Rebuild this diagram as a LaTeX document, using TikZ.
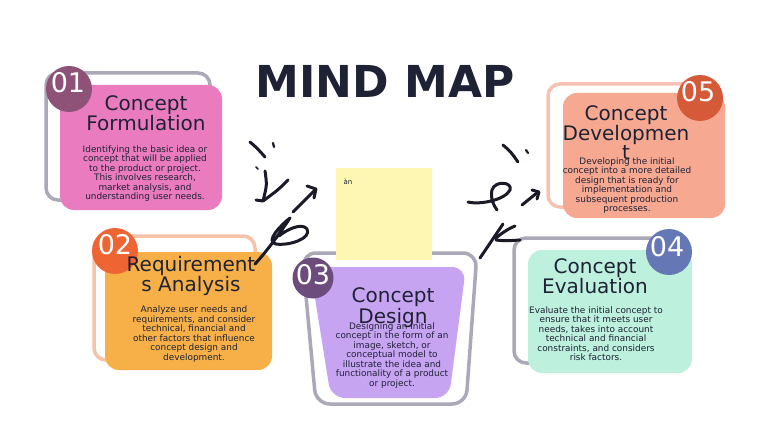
\documentclass[tikz,border=0pt]{standalone}
\usepackage{fontspec}
\setmainfont{DejaVu Sans}
\definecolor{ink}{HTML}{1F2235}
\definecolor{pen}{HTML}{1A1A28}
\definecolor{cpink}{HTML}{E97BBE}
\definecolor{bpink}{HTML}{8E5279}
\definecolor{corange}{HTML}{F7B048}
\definecolor{borange}{HTML}{EE6433}
\definecolor{cpurple}{HTML}{C7A4F2}
\definecolor{bpurple}{HTML}{6B4C7D}
\definecolor{cmint}{HTML}{BDF0DD}
\definecolor{bmint}{HTML}{6577B5}
\definecolor{csalmon}{HTML}{F6A891}
\definecolor{bsalmon}{HTML}{D55A38}
\definecolor{note}{HTML}{FDF7B3}
\definecolor{fgray}{HTML}{ABA8B8}
\definecolor{forange}{HTML}{F6C3A8}
\definecolor{fsalmon}{HTML}{F7C2B2}
\tikzset{
  frame/.style={draw=#1, line width=3.5pt, fill=white, rounded corners=12pt},
  card/.style={fill=#1, rounded corners=14pt},
  badge/.style={circle, fill=#1, minimum size=46pt, inner sep=0pt},
  num/.style={text=white, font=\fontsize{27}{27}\selectfont, inner sep=0pt},
  ttl/.style={text=ink, font=\fontsize{20}{19}\selectfont, align=center, inner sep=0pt},
  body/.style={text=ink, font=\fontsize{8.9}{9.5}\selectfont, align=center, inner sep=0pt},
  penline/.style={draw=pen, line width=3pt, line cap=round, line join=round},
}
\begin{document}
\begin{tikzpicture}[x=1pt,y=-1pt]
\useasboundingbox (0,0) rectangle (768,433);
\fill[white] (0,0) rectangle (768,433);

% title
\node[text=ink, font=\fontsize{44}{44}\selectfont\bfseries, inner sep=0pt] (title) at (385,81) {MIND MAP};

% ---------- card 1
\draw[frame=fgray] (46,73) rectangle (210,200);
\fill[card=cpink] (60,85) rectangle (222,210);
\node[badge=bpink] (b1) at (69,89) {};
\node[num] (n1) at (68,83) {01};
\node[ttl] (t1) at (146,113) {Concept\\Formulation};
\node[body] (d1) at (145,173.5) {Identifying the basic idea or\\concept that will be applied\\to the product or project.\\This involves research,\\market analysis, and\\understanding user needs.};

% ---------- card 2
\draw[frame=forange] (94,236) rectangle (255,360);
\fill[card=corange] (105,252) rectangle (272,370);
\node[badge=borange] (b2) at (115,251) {};
\node[num] (n2) at (115,245) {02};
\node[ttl] (t2) at (191,276) {Requirement\\s Analysis};
\node[body] (d2) at (194,334) {Analyze user needs and\\requirements, and consider\\technical, financial and\\other factors that influence\\concept design and\\development.};

% ---------- card 4
\draw[frame=fgray] (514,238) rectangle (680,363);
\fill[card=cmint] (528,250) rectangle (692,373);
\node[badge=bmint] (b4) at (669,252) {};
\node[num] (n4) at (667,247) {04};
\node[ttl] (t4) at (595,276) {Concept\\Evaluation};
\node[body] (d4) at (596,333.5) {Evaluate the initial concept to\\ensure that it meets user\\needs, takes into account\\technical and financial\\constraints, and considers\\risk factors.};

% ---------- card 5
\draw[frame=fsalmon] (548,84) rectangle (713,207);
\fill[card=csalmon] (563,93) rectangle (725,218);
\node[badge=bsalmon] (b5) at (700,98) {};
\node[num] (n5) at (698,92) {05};
\node[ttl] (t5) at (626,132.5) {Concept\\Developmen\\t};
\node[body] (d5) at (627,185.5) {Developing the initial\\concept into a more detailed\\design that is ready for\\implementation and\\subsequent production\\processes.};

% ---------- card 3
\draw[frame=fgray, rounded corners=14pt] (302,253) -- (477,253) -- (466,404) -- (316,404) -- cycle;
\fill[cpurple, rounded corners=14pt] (310,267) -- (466,267) -- (449,398) -- (331,398) -- cycle;
\node[fill=note, minimum width=96pt, minimum height=92pt, inner sep=0pt] (sticky) at (384,214) {};
\node[text=ink, font=\fontsize{7}{7}\selectfont, inner sep=0pt] (stxt) at (348,182) {àn};
\node[badge=bpurple, minimum size=41pt] (b3) at (313,278) {};
\node[num] (n3) at (313,275) {03};
\node[ttl] (t3) at (393,307.5) {Concept\\Design};
\node[body] (d3) at (392,355.5) {Designing an initial\\concept in the form of an\\image, sketch, or\\conceptual model to\\illustrate the idea and\\functionality of a product\\or project.};

% ---------- left squiggles
\coordinate (la1) at (250,142); \coordinate (la2) at (265,157);
\draw[penline] (la1) .. controls (257,148) .. (la2);
\draw[penline, line width=2.2pt] (273,143) -- (274,147);
\draw[penline, line width=1.5pt] (256,167) -- (258,169);
\draw[penline] (265,171) .. controls (267,185) .. (263,201) -- (256,200);
\draw[penline] (288,180) .. controls (278,190) .. (263,201);
\coordinate (lu1) at (293,212); \coordinate (lu2) at (315,190);
\draw[penline] (lu1) -- (lu2);
\draw[penline] (307,186) -- (316,189) -- (314,198);
\draw[penline] (255,264) .. controls (268,250) and (282,230) .. (290,218)
  .. controls (282,224) and (264,242) .. (276,244)
  .. controls (290,246) and (312,238) .. (307,229)
  .. controls (302,222) and (286,230) .. (279,236);

% ---------- right squiggles
\draw[penline] (503,145) .. controls (511,152) .. (518,162);
\draw[penline, line width=2.2pt] (526,150) -- (528,153);
\draw[penline] (468,202) .. controls (480,205) and (505,200) .. (510,190)
  .. controls (513,182) and (495,180) .. (492,190)
  .. controls (490,198) and (494,206) .. (497,210);
\draw[penline] (522,205) -- (538,192);
\draw[penline] (532,190) -- (539,192) -- (537,199);
\draw[penline] (480,258) -- (503,224);
\draw[penline] (496,238) .. controls (503,232) and (510,228) .. (515,226);
\draw[penline] (496,240) .. controls (505,241) .. (520,240);
\end{tikzpicture}
\end{document}
